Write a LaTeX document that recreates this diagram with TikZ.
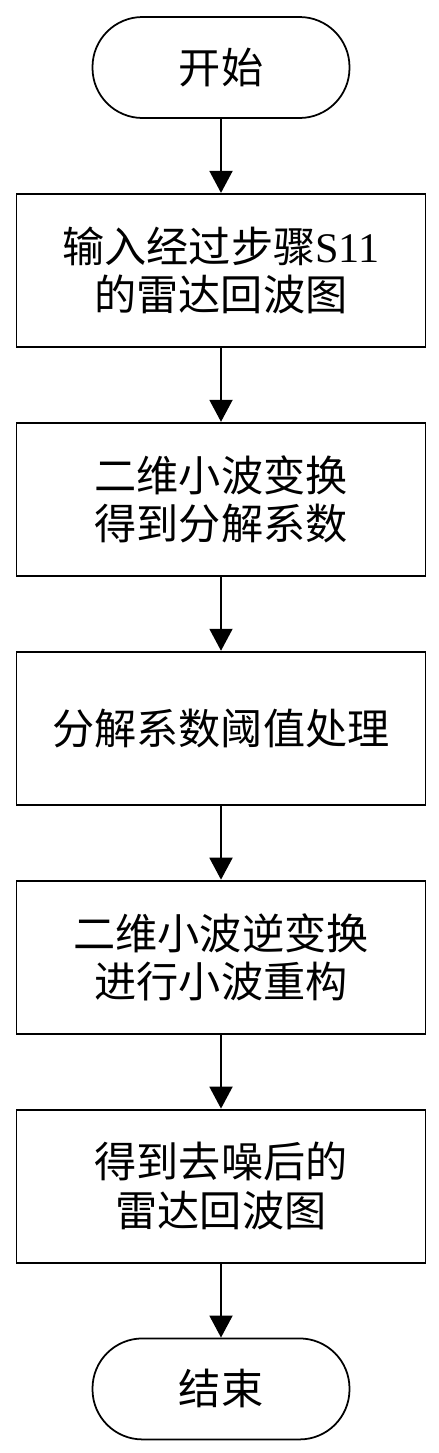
\documentclass[tikz,border=0pt]{standalone}
\usepackage{fontspec}
\setmainfont{Liberation Serif}
\newfontfamily\cjk{Noto Sans CJK SC}
\usetikzlibrary{arrows.meta,positioning}
\tikzset{
  termbox/.style={draw, line width=1pt, rounded corners=1cm,
    minimum width=5.14cm, minimum height=2.02cm, align=center},
  procbox/.style={draw, line width=1.1pt, minimum width=8.18cm,
    minimum height=3.06cm, align=center},
  flowln/.style={-{Triangle[length=4.4mm,width=4.6mm]}, line width=1.1pt},
}
\newcommand{\boxtxt}{\cjk\fontsize{24}{27.5}\selectfont}

\begin{document}
\begin{tikzpicture}[node distance=1.48cm, font=\boxtxt]
    \useasboundingbox (0,0) rectangle (8.78,-29.06);
    % Terminals and steps
    \node[termbox] (start) at (4.42,-1.35) {开始};
    \node[procbox, below=of start] (input) {输入经过步骤{\rmfamily S11}\\的雷达回波图};
    \node[procbox, below=of input] (dwt) {二维小波变换\\得到分解系数};
    \node[procbox, below=of dwt] (thresh) {分解系数阈值处理};
    \node[procbox, below=of thresh] (idwt) {二维小波逆变换\\进行小波重构};
    \node[procbox, below=of idwt] (result) {得到去噪后的\\雷达回波图};
    \node[termbox, below=of result] (stop) {结束};
    % Arrows
    \foreach \a/\b in {start/input, input/dwt, dwt/thresh, thresh/idwt,
      idwt/result, result/stop}
      \draw[flowln] (\a) -- (\b);
\end{tikzpicture}
\end{document}
